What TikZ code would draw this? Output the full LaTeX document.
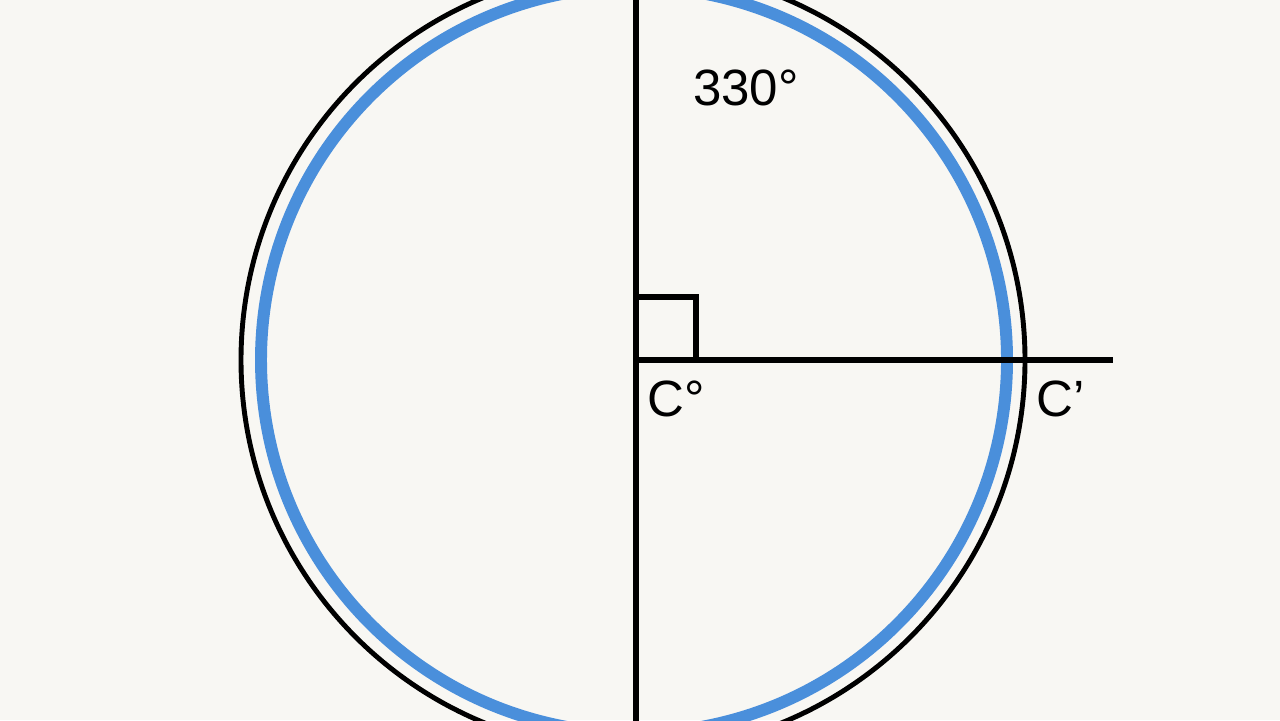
\documentclass[tikz,border=0pt]{standalone}
\usepackage{fontspec}
\setmainfont{Liberation Sans}
\usetikzlibrary{positioning}
\definecolor{paper}{HTML}{F8F7F3}
\definecolor{ringblue}{HTML}{4A8FDB}
\begin{document}
\begin{tikzpicture}[x=0.01cm,y=0.01cm]
		\tikzstyle{axis}=[draw=black,line width=1.7pt]
		\tikzstyle{rim}=[draw=black,line width=1.4pt]
		\tikzstyle{ring}=[draw=ringblue,line width=3.4pt]
		\tikzstyle{label}=[font=\fontsize{14.5}{17}\selectfont,inner sep=0pt]
		
		\fill[paper] (0,0) rectangle (1280,720);
		\useasboundingbox (0,0) rectangle (1280,720);
		\clip (0,0) rectangle (1280,720);
		
		\coordinate (O) at (636,360);
		\coordinate (top) at (636,730);
		\coordinate (bottom) at (636,-10);
		\coordinate (end) at (1113,360);
		\coordinate (sq) at (696,423);
		
		\draw[rim] (633,360) circle (392);
		\draw[ring] (634,360) circle (373);
		
		\draw[axis] (top) -- (bottom);
		\draw[axis] (O) -- (end);
		\draw[axis] (O |- sq) -| (sq |- O);
		
		\node[label] (angle) at (746,632) {330°};
		\node[label] (zero) at (676,321) {C°};
		\node[label] (cprime) at (1061,321) {C'};
		
	\end{tikzpicture}
\end{document}
